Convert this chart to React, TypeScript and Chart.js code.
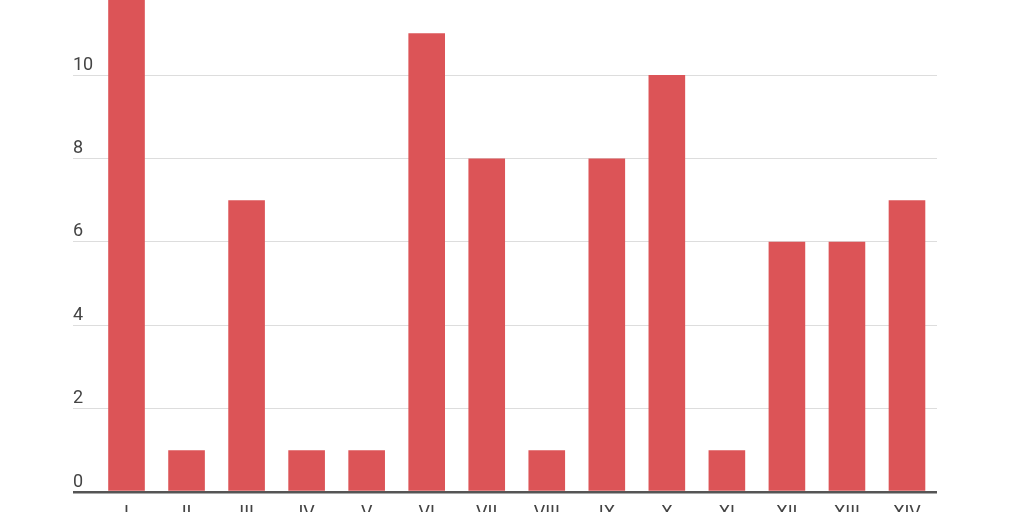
import React, { useEffect, useRef } from "react";
import { Chart, registerables } from "chart.js";

Chart.register(...registerables);

const categories = ["I", "II", "III", "IV", "V", "VI", "VII", "VIII", "IX", "X", "XI", "XII", "XIII", "XIV"];
const values = [12, 1, 7, 1, 1, 11, 8, 1, 8, 10, 1, 6, 6, 7];
const yTicks = [0, 2, 4, 6, 8, 10];

export default function App() {
  const ref = useRef<HTMLCanvasElement | null>(null);
  useEffect(() => {
    document.body.style.margin = "0";
    if (!ref.current) return;
    const chart = new Chart(ref.current, {
      type: "bar",
      data: {
        labels: categories,
        datasets: [
          {
            data: values,
            backgroundColor: "#dc5457",
            barPercentage: 0.61,
            categoryPercentage: 1,
          },
        ],
      },
      options: {
        animation: false,
        responsive: true,
        maintainAspectRatio: false,
        layout: { padding: { left: 73, right: 87, top: 0, bottom: 0 } },
        plugins: { legend: { display: false }, tooltip: { enabled: false } },
        scales: {
          x: {
            grid: { display: false },
            border: { display: false },
            ticks: {
              padding: 3,
              color: "#444",
              font: { family: "Roboto", size: 18 },
              maxRotation: 0,
              autoSkip: false,
            },
            afterFit: (scale: any) => {
              scale.height = 20;
            },
          },
          y: {
            min: 0,
            max: 11.8,
            border: { display: false },
            grid: {
              color: (ctx: any) => (ctx.tick && ctx.tick.value === 0 ? "#555555" : "#dddddd"),
              lineWidth: (ctx: any) => (ctx.tick && ctx.tick.value === 0 ? 2.5 : 1),
              tickLength: 23.5,
            },
            ticks: {
              padding: 0,
              crossAlign: "far",
              labelOffset: -10,
              color: "#444",
              font: { family: "Roboto", size: 18 },
            },
            afterBuildTicks: (scale: any) => {
              scale.ticks = yTicks.map((v) => ({ value: v }));
            },
            afterFit: (scale: any) => {
              scale.width = 23.5;
              scale.paddingTop = 0;
              scale.paddingBottom = 0;
            },
          },
        },
      },
    });
    return () => chart.destroy();
  }, []);
  return (
    <div style={{ width: 1024, height: 512, position: "relative" }}>
      <canvas ref={ref} />
    </div>
  );
}
